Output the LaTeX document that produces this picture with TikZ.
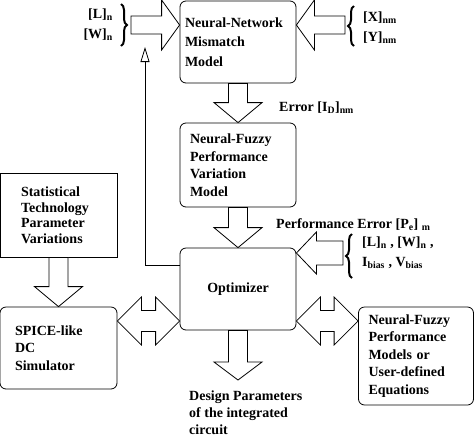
\documentclass[tikz,border=0pt]{standalone}
\usepackage{fontspec}
\setmainfont{Liberation Serif}
\usetikzlibrary{calc,arrows.meta,decorations.pathreplacing}

\newcommand{\fashaft}{9.5pt}
\newcommand{\fahead}{24pt}
\newcommand{\falen}{20pt}
\tikzset{
  fashaft/.store in=\fashaft, fahead/.store in=\fahead, falen/.store in=\falen,
  fat/.style={draw, line width=0.8pt, fill=white, line join=miter},
  block/.style={draw, line width=0.8pt, rounded corners=6pt, minimum width=116pt,
    inner ysep=0pt, align=left, font=\fontsize{14}{17.5}\selectfont\bfseries},
  lbl/.style={inner sep=0pt, font=\fontsize{14}{20}\selectfont\bfseries},
  curly/.style={decorate, decoration={brace, amplitude=6pt, aspect=0.5}, line width=2pt},
}

% fat arrow from #2 to the tip #3
\newcommand{\fatarrow}[3][]{%
  \begin{scope}[#1]
    \path (#3) coordinate (fa-tip) ($(#3)!\falen!(#2)$) coordinate (fa-mid) (#2) coordinate (fa-tail);
    \draw[fat] ($(fa-tail)!\fashaft!90:(fa-tip)$) -- ($(fa-mid)!\fashaft!-90:(fa-tail)$)
      -- ($(fa-mid)!\fahead!-90:(fa-tail)$) -- (fa-tip) -- ($(fa-mid)!\fahead!90:(fa-tail)$)
      -- ($(fa-mid)!\fashaft!90:(fa-tail)$) -- ($(fa-tail)!\fashaft!-90:(fa-tip)$) -- cycle;
  \end{scope}}
% fat arrow with a tip at both ends
\newcommand{\fatdarrow}[3][]{%
  \begin{scope}[#1]
    \path (#2) coordinate (fa-a) (#3) coordinate (fa-b)
      ($(#2)!\falen!(#3)$) coordinate (fa-ma) ($(#3)!\falen!(#2)$) coordinate (fa-mb);
    \draw[fat] (fa-a) -- ($(fa-ma)!\fahead!90:(fa-b)$) -- ($(fa-ma)!\fashaft!90:(fa-b)$)
      -- ($(fa-mb)!\fashaft!-90:(fa-a)$) -- ($(fa-mb)!\fahead!-90:(fa-a)$) -- (fa-b)
      -- ($(fa-mb)!\fahead!90:(fa-a)$) -- ($(fa-mb)!\fashaft!90:(fa-a)$)
      -- ($(fa-ma)!\fashaft!-90:(fa-b)$) -- ($(fa-ma)!\fahead!-90:(fa-b)$) -- cycle;
  \end{scope}}

\begin{document}
\begin{tikzpicture}[x=1pt,y=-1pt]
  \useasboundingbox (0,0) rectangle (474,440);

  \node[block, minimum height=82pt, inner xsep=5pt, text width=106pt,
    font=\fontsize{14}{19.5}\selectfont\bfseries] (mismatch) at (238,42)
    {Neural-Network\\Mismatch\\Model};
  \node[block, minimum height=84pt, inner xsep=10pt, text width=96pt] (variation) at (238,165)
    {Neural-Fuzzy\\Performance\\Variation\\Model};
  \node[block, minimum height=82pt, align=center] (optimizer) at (238,289) {Optimizer};
  \node[block, rounded corners=0pt, minimum width=117pt, minimum height=84pt, inner xsep=21pt,
    text width=75pt, font=\fontsize{14}{15.5}\selectfont\bfseries] (stats) at (58.5,215)
    {Statistical\\Technology\\Parameter\\Variations};
  \node[block, minimum width=117pt, minimum height=82pt, inner xsep=15pt, text width=87pt]
    (spice) at (58.5,348) {SPICE-like\\DC\\Simulator};
  \node[block, minimum width=115pt, minimum height=98pt, inner xsep=10pt, text width=95pt]
    (perfmodels) at (416,356)
    {Neural-Fuzzy\\Performance\\Models or\\User-defined\\Equations};

  \node[lbl, align=right, anchor=east] (lw) at (113,25)
    {{[L]}\textsubscript{n}\\{[W]}\textsubscript{n}};
  \node[lbl, align=left, anchor=west] (xy) at (363,28)
    {{[X]}\textsubscript{nm}\\{[Y]}\textsubscript{nm}};
  \node[lbl, align=left, anchor=west] (opin) at (362,253)
    {{[L]}\textsubscript{n} , {[W]}\textsubscript{n} ,\\I\textsubscript{bias} , V\textsubscript{bias}};
  \node[lbl, anchor=west] (err) at (279,108) {Error [I\textsubscript{D}]\textsubscript{nm}};
  \node[lbl, anchor=west] (perr) at (276,225)
    {Performance Error [P\textsubscript{e}] \textsubscript{m}};
  \node[lbl, align=left, anchor=north west, font=\fontsize{14}{17}\selectfont\bfseries]
    (design) at (189,391) {Design Parameters\\of the integrated\\circuit};

  \draw[curly] (121,4) -- (121,46);
  \draw[curly] (354,46) -- (354,6);
  \draw[curly] (352,278) -- (352,234);

  \coordinate (lwtail) at (131,25);
  \coordinate (xytail) at (345,25);
  \coordinate (opintail) at (343,253);
  \coordinate (pmid) at (0,321);
  \coordinate (dtip) at (238,380);
  \coordinate (fbstart) at (0,265);
  \coordinate (fbtip) at (145,47);

  \fatarrow[fashaft=9pt, fahead=25pt, falen=18pt]{lwtail}{mismatch.west |- lwtail}
  \fatarrow[fashaft=9pt, fahead=25pt, falen=18pt]{xytail}{mismatch.east |- xytail}
  \fatarrow{mismatch.south}{variation.north}
  \fatarrow{variation.south}{optimizer.north}
  \fatarrow[fashaft=12pt, fahead=21pt]{opintail}{optimizer.east |- opintail}
  \fatarrow{stats.south}{spice.north}
  \fatarrow[falen=18pt]{optimizer.south}{dtip}
  \fatdarrow[fashaft=10.5pt, falen=24pt]{spice.east |- pmid}{optimizer.west |- pmid}
  \fatdarrow[fashaft=10.5pt, falen=24pt]{optimizer.east |- pmid}{perfmodels.west |- pmid}

  \draw[line width=0.8pt, -{Triangle[open, length=15pt, width=9pt]}]
    (optimizer.west |- fbstart) -| (fbtip);
\end{tikzpicture}
\end{document}
